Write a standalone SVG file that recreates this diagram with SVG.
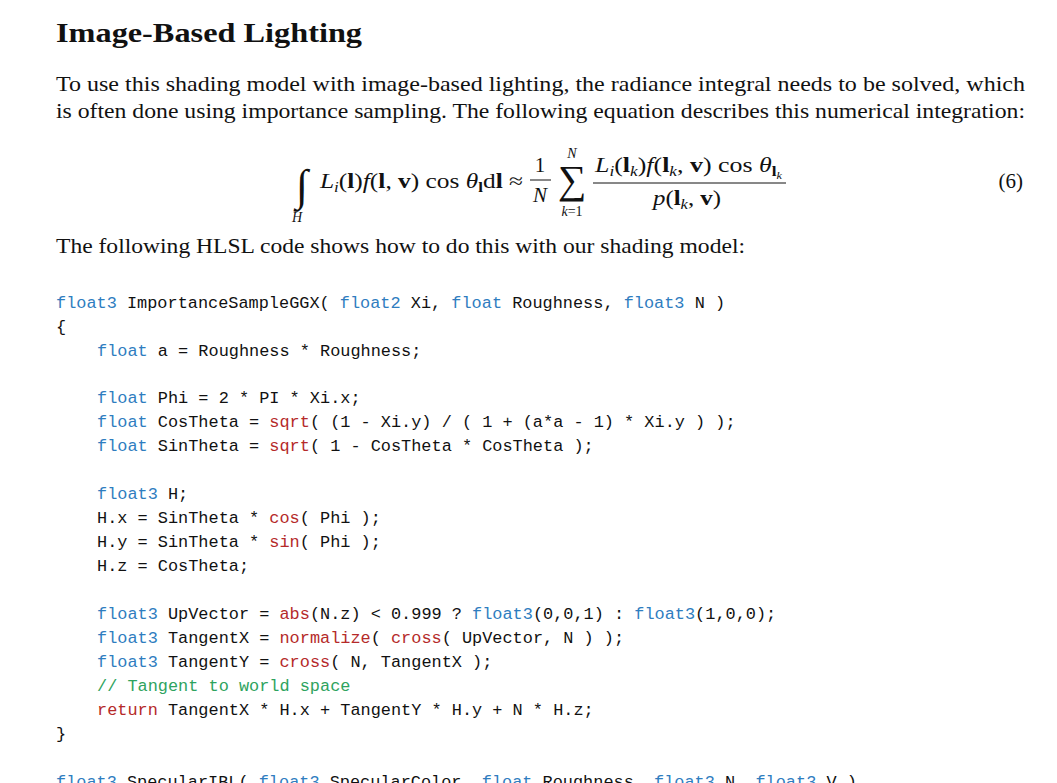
<svg xmlns="http://www.w3.org/2000/svg" width="1057" height="783" viewBox="0 0 1057 783">
<style>
.t{font-family:"Liberation Serif",serif;font-size:21px;fill:#111}
.m{font-family:"Liberation Serif",serif;font-size:21px;fill:#111}
.i{font-style:italic}
.b{font-weight:bold}
.s{font-size:14px}
.c{font-family:"Liberation Mono",monospace;font-size:16.9px;fill:#111;white-space:pre}
.k{fill:#2f7dbf}
.f{fill:#b52a2a}
.g{fill:#2ea35e}
</style>
<rect width="1057" height="783" fill="#fff"/>
<text x="56" y="42" class="t b" style="font-size:28px" textLength="306" lengthAdjust="spacingAndGlyphs">Image-Based Lighting</text>
<text x="56" y="91" class="t" textLength="969" lengthAdjust="spacingAndGlyphs">To use this shading model with image-based lighting, the radiance integral needs to be solved, which</text>
<text x="56" y="118" class="t" textLength="969" lengthAdjust="spacingAndGlyphs">is often done using importance sampling. The following equation describes this numerical integration:</text>
<g id="equation">
<text x="296" y="200" class="m i" style="font-size:44px">∫</text>
<text x="292" y="222" class="m i s">H</text>
<text x="320" y="188" class="m" textLength="203" lengthAdjust="spacingAndGlyphs"><tspan class="i">L</tspan><tspan class="i s" dy="4">i</tspan><tspan dy="-4">(</tspan><tspan class="b">l</tspan>)<tspan class="i">f</tspan>(<tspan class="b">l</tspan>, <tspan class="b">v</tspan>) cos <tspan class="i">θ</tspan><tspan class="b s" dy="4">l</tspan><tspan dy="-4">d</tspan><tspan class="b">l</tspan> ≈</text>
<text x="540" y="172" class="m" text-anchor="middle">1</text>
<line x1="530" y1="180" x2="551" y2="180" stroke="#111" stroke-width="1"/>
<text x="540" y="202" class="m i" text-anchor="middle">N</text>
<text x="572" y="158" class="m i s" text-anchor="middle">N</text>
<text x="572" y="193" class="m" text-anchor="middle" style="font-size:40px">∑</text>
<text x="572" y="216" class="m s" text-anchor="middle"><tspan class="i">k</tspan>=1</text>
<text x="595" y="172" class="m" textLength="187" lengthAdjust="spacingAndGlyphs"><tspan class="i">L</tspan><tspan class="i s" dy="4">i</tspan><tspan dy="-4">(</tspan><tspan class="b">l</tspan><tspan class="i s" dy="4">k</tspan><tspan dy="-4">)</tspan><tspan class="i">f</tspan>(<tspan class="b">l</tspan><tspan class="i s" dy="4">k</tspan><tspan dy="-4">, </tspan><tspan class="b">v</tspan>) cos <tspan class="i">θ</tspan><tspan class="b s" dy="4">l</tspan><tspan class="i" style="font-size:10px" dy="3">k</tspan></text>
<line x1="593" y1="183" x2="786" y2="183" stroke="#111" stroke-width="1"/>
<text x="653" y="205" class="m" textLength="68" lengthAdjust="spacingAndGlyphs"><tspan class="i">p</tspan>(<tspan class="b">l</tspan><tspan class="i s" dy="4">k</tspan><tspan dy="-4">, </tspan><tspan class="b">v</tspan>)</text>
<text x="1023" y="188" class="m" text-anchor="end">(6)</text>
</g>
<text x="56" y="253" class="t" textLength="689" lengthAdjust="spacingAndGlyphs">The following HLSL code shows how to do this with our shading model:</text>
<g id="code">
<text x="56" y="308" class="c"><tspan class="k">float3</tspan> ImportanceSampleGGX( <tspan class="k">float2</tspan> Xi, <tspan class="k">float</tspan> Roughness, <tspan class="k">float3</tspan> N )</text>
<text x="56" y="332" class="c">{</text>
<text x="97" y="356" class="c"><tspan class="k">float</tspan> a = Roughness * Roughness;</text>
<text x="97" y="403" class="c"><tspan class="k">float</tspan> Phi = 2 * PI * Xi.x;</text>
<text x="97" y="427" class="c"><tspan class="k">float</tspan> CosTheta = <tspan class="f">sqrt</tspan>( (1 - Xi.y) / ( 1 + (a*a - 1) * Xi.y ) );</text>
<text x="97" y="451" class="c"><tspan class="k">float</tspan> SinTheta = <tspan class="f">sqrt</tspan>( 1 - CosTheta * CosTheta );</text>
<text x="97" y="499" class="c"><tspan class="k">float3</tspan> H;</text>
<text x="97" y="523" class="c">H.x = SinTheta * <tspan class="f">cos</tspan>( Phi );</text>
<text x="97" y="547" class="c">H.y = SinTheta * <tspan class="f">sin</tspan>( Phi );</text>
<text x="97" y="571" class="c">H.z = CosTheta;</text>
<text x="97" y="619" class="c"><tspan class="k">float3</tspan> UpVector = <tspan class="f">abs</tspan>(N.z) &lt; 0.999 ? <tspan class="k">float3</tspan>(0,0,1) : <tspan class="k">float3</tspan>(1,0,0);</text>
<text x="97" y="643" class="c"><tspan class="k">float3</tspan> TangentX = <tspan class="f">normalize</tspan>( <tspan class="f">cross</tspan>( UpVector, N ) );</text>
<text x="97" y="667" class="c"><tspan class="k">float3</tspan> TangentY = <tspan class="f">cross</tspan>( N, TangentX );</text>
<text x="97" y="691" class="c g">// Tangent to world space</text>
<text x="97" y="715" class="c"><tspan class="f">return</tspan> TangentX * H.x + TangentY * H.y + N * H.z;</text>
<text x="56" y="739" class="c">}</text>
<text x="56" y="787" class="c"><tspan class="k">float3</tspan> SpecularIBL( <tspan class="k">float3</tspan> SpecularColor, <tspan class="k">float</tspan> Roughness, <tspan class="k">float3</tspan> N, <tspan class="k">float3</tspan> V )</text>
</g>
</svg>
